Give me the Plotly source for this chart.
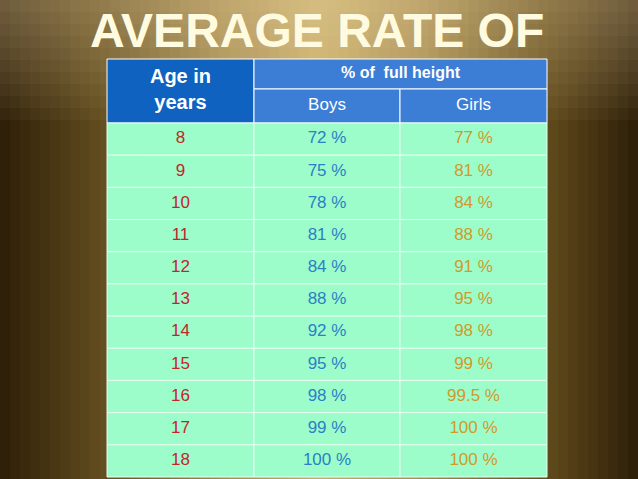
import plotly.graph_objects as go

ages = ["8","9","10","11","12","13","14","15","16","17","18"]
boys = ["72 %","75 %","78 %","81 %","84 %","88 %","92 %","95 %","98 %","99 %","100 %"]
girls = ["77 %","81 %","84 %","88 %","91 %","95 %","98 %","99 %","99.5 %","100 %","100 %"]
title = "AVERAGE RATE OF"
hdr_age = "Age in<br>years"
hdr_pct = "% of  full height"
hdr_boys = "Boys"
hdr_girls = "Girls"

W, H = 638, 479
xs = [107, 254, 400, 547]
y_top, y_mid, y_hdr = 59, 89, 123
y_bot = 477
n = len(ages)
rh = (y_bot - y_hdr) / n

fig = go.Figure()
shapes = []
# smooth horizontal background gradient
stops = [(0, (45, 30, 8)), (0.15, (95, 75, 30)), (0.35, (165, 140, 80)), (0.5, (200, 175, 110)),
         (0.65, (170, 145, 85)), (0.85, (100, 78, 30)), (1, (45, 30, 8))]
nb = 64
for i in range(nb):
    t = (i + 0.5) / nb
    for k in range(len(stops) - 1):
        if stops[k][0] <= t <= stops[k+1][0]:
            a, ca = stops[k]; b, cb = stops[k+1]
            f = (t - a) / (b - a)
            c = tuple(int(ca[m] + f * (cb[m] - ca[m])) for m in range(3))
            break
    shapes.append(dict(type="rect", x0=i*W/nb, x1=(i+1)*W/nb+1, y0=0, y1=H,
                       fillcolor="rgb(%d,%d,%d)" % c, line_width=0, layer="below"))
for i in range(10):
    shapes.append(dict(type="rect", x0=0, x1=W, y0=0, y1=12*(i+1), fillcolor="rgba(255,240,190,0.04)",
                       line_width=0, layer="below"))
def cell(x0, x1, y0, y1, fill, lc="white"):
    shapes.append(dict(type="rect", x0=x0, x1=x1, y0=y0, y1=y1, fillcolor=fill,
                       line=dict(color=lc, width=1), layer="below"))
cell(xs[0], xs[1], y_top, y_hdr, "#0f62c0")
cell(xs[1], xs[3], y_top, y_mid, "#3c7dd6")
cell(xs[1], xs[2], y_mid, y_hdr, "#3c7dd6")
cell(xs[2], xs[3], y_mid, y_hdr, "#3c7dd6")
for i in range(n):
    for j in range(3):
        cell(xs[j], xs[j+1], y_hdr+i*rh, y_hdr+(i+1)*rh, "#9cfdca", "#e8fff0")
fig.update_layout(shapes=shapes)

cy = [y_hdr + (i+0.5)*rh for i in range(n)]
cx = [(xs[j]+xs[j+1])/2 for j in range(3)]
font = "Liberation Sans, Arial"
for j, (vals, col) in enumerate([(ages, "#c0262a"), (boys, "#2b80c4"), (girls, "#d09a2c")]):
    fig.add_trace(go.Scatter(x=[cx[j]]*n, y=cy, text=vals, mode="text",
                             textfont=dict(family=font, size=17, color=col), hoverinfo="skip"))
fig.add_trace(go.Scatter(x=[cx[0], (xs[1]+xs[3])/2, cx[1], cx[2]],
                         y=[(y_top+y_hdr)/2, (y_top+y_mid)/2, (y_mid+y_hdr)/2, (y_mid+y_hdr)/2],
                         text=["<b>"+hdr_age+"</b>", "<b>"+hdr_pct+"</b>", hdr_boys, hdr_girls], mode="text",
                         textfont=dict(family=font, size=[20, 16, 17, 17], color="white"), hoverinfo="skip"))
fig.add_annotation(x=W/2-2, y=30, text="<b>"+title+"</b>", showarrow=False,
                   font=dict(family=font, size=48, color="#fffbe0"))

fig.update_layout(width=W, height=H, margin=dict(l=0, r=0, t=0, b=0), showlegend=False,
                  paper_bgcolor="#4a3510", plot_bgcolor="#4a3510",
                  xaxis=dict(range=[0, W], visible=False, fixedrange=True),
                  yaxis=dict(range=[H, 0], visible=False, fixedrange=True))
fig.write_html("out.html", config={"displayModeBar": False},
               post_script="document.body.style.margin='0';document.body.style.overflow='hidden';")
